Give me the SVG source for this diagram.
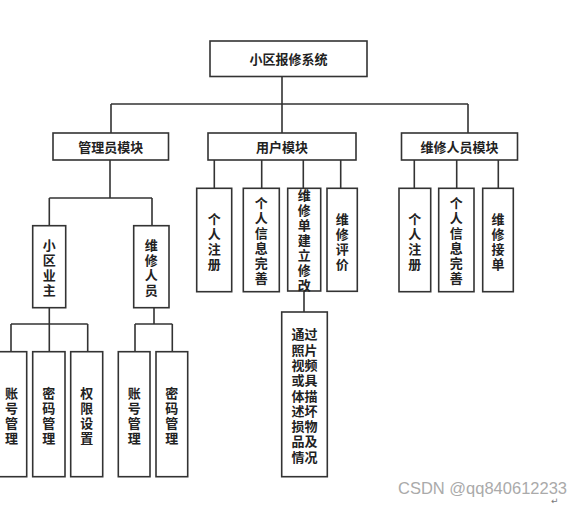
<svg xmlns="http://www.w3.org/2000/svg" width="584" height="506" viewBox="0 0 584 506">
<style>
.box{fill:#fff;stroke:#333;stroke-width:1.6}
.ln{fill:none;stroke:#333;stroke-width:1.6}
.t{font-family:"Noto Sans CJK SC","Noto Sans",sans-serif;font-size:13px;font-weight:bold;fill:#222;text-anchor:middle;dominant-baseline:central}
.v{font-family:"Noto Sans CJK SC","Noto Sans",sans-serif;font-size:13px;font-weight:bold;fill:#222;writing-mode:vertical-rl;text-orientation:upright;letter-spacing:2px}
.wm{font-family:"Liberation Sans",Arial,sans-serif;font-size:16.5px;fill:#aaa}
</style>
<rect width="584" height="506" fill="#fff"/>
<g id="connectors">
<path class="ln" d="M282 76V104M111 104H468M111 104V133M282 104V133M468 104V133"/>
<path class="ln" d="M214.3 160V188M261.7 160V188M303.3 160V188M340.7 160V188"/>
<path class="ln" d="M414.3 160V188M456.7 160V188M498.3 160V188"/>
<path class="ln" d="M110 160V198M49.3 198H152M49.3 198V225.7M152 198V225.7"/>
<path class="ln" d="M49.3 307.7V324M11 324H87.7M11 324V351.7M49.3 324V351.7M87.7 324V351.7"/>
<path class="ln" d="M154 307.7V324M135 324H172.3M135 324V351.7M172.3 324V351.7"/>
<path class="ln" d="M304 291V312"/>
</g>
<g id="root"><rect class="box" x="210" y="41" width="157" height="35.5"/><text class="t" x="288.5" y="58.5">小区报修系统</text></g>
<g id="admin"><rect class="box" x="53" y="133" width="115.5" height="27"/><text class="t" x="110.8" y="146.5">管理员模块</text></g>
<g id="user"><rect class="box" x="208" y="133" width="148" height="27"/><text class="t" x="282" y="146.5">用户模块</text></g>
<g id="worker"><rect class="box" x="401.5" y="133" width="116" height="27"/><text class="t" x="459.5" y="146.5">维修人员模块</text></g>

<g id="u-register"><rect class="box" x="196.7" y="188.3" width="35" height="103.4"/><text class="v" x="214.2" y="212.8">个人注册</text></g>
<g id="u-info"><rect class="box" x="243.3" y="188.3" width="36" height="103.4"/><text class="v" x="261.3" y="196.8">个人信息完善</text></g>
<g id="u-order"><rect class="box" x="287.7" y="188.3" width="33" height="102.7"/><text class="v" x="304.2" y="188.5">维修单建立修改</text></g>
<g id="u-eval"><rect class="box" x="327" y="188.3" width="30.3" height="103"/><text class="v" x="342.2" y="212.8">维修评价</text></g>

<g id="w-register"><rect class="box" x="399" y="188.3" width="31.7" height="103.4"/><text class="v" x="414.8" y="212.8">个人注册</text></g>
<g id="w-info"><rect class="box" x="438.7" y="188.3" width="35.3" height="103.4"/><text class="v" x="456.3" y="196.8">个人信息完善</text></g>
<g id="w-accept"><rect class="box" x="482.7" y="188.3" width="30.6" height="103.4"/><text class="v" x="498" y="212.8">维修接单</text></g>

<g id="owner"><rect class="box" x="32.7" y="225.7" width="33" height="82"/><text class="v" x="49.2" y="238.5">小区业主</text></g>
<g id="repairman"><rect class="box" x="133.7" y="225.7" width="35.3" height="82"/><text class="v" x="151.3" y="238.5">维修人员</text></g>

<g id="o-account"><rect class="box" x="-4.5" y="351.7" width="31.2" height="125"/><text class="v" x="11.5" y="386.5">账号管理</text></g>
<g id="o-password"><rect class="box" x="32.7" y="351.7" width="32.3" height="125"/><text class="v" x="48.8" y="386.5">密码管理</text></g>
<g id="o-perm"><rect class="box" x="70.7" y="351.7" width="32" height="125"/><text class="v" x="86.7" y="386.5">权限设置</text></g>
<g id="r-account"><rect class="box" x="118.3" y="351.7" width="31.7" height="125"/><text class="v" x="134.2" y="386.5">账号管理</text></g>
<g id="r-password"><rect class="box" x="156" y="351.7" width="31.7" height="125"/><text class="v" x="171.8" y="386.5">密码管理</text></g>

<g id="order-detail"><rect class="box" x="281.7" y="312" width="45.6" height="164.7"/>
<text class="t"><tspan x="304.5" y="333.3">通过</tspan><tspan x="304.5" y="348.6">照片</tspan><tspan x="304.5" y="363.9">视频</tspan><tspan x="304.5" y="379.2">或具</tspan><tspan x="304.5" y="394.5">体描</tspan><tspan x="304.5" y="409.8">述坏</tspan><tspan x="304.5" y="425.1">损物</tspan><tspan x="304.5" y="440.4">品及</tspan><tspan x="304.5" y="455.7">情况</tspan></text></g>

<text class="wm" x="398" y="494">CSDN @qq840612233</text>
<text x="551" y="504" style="font-family:'DejaVu Sans',sans-serif;font-size:9px;fill:#777">↵</text>
</svg>
